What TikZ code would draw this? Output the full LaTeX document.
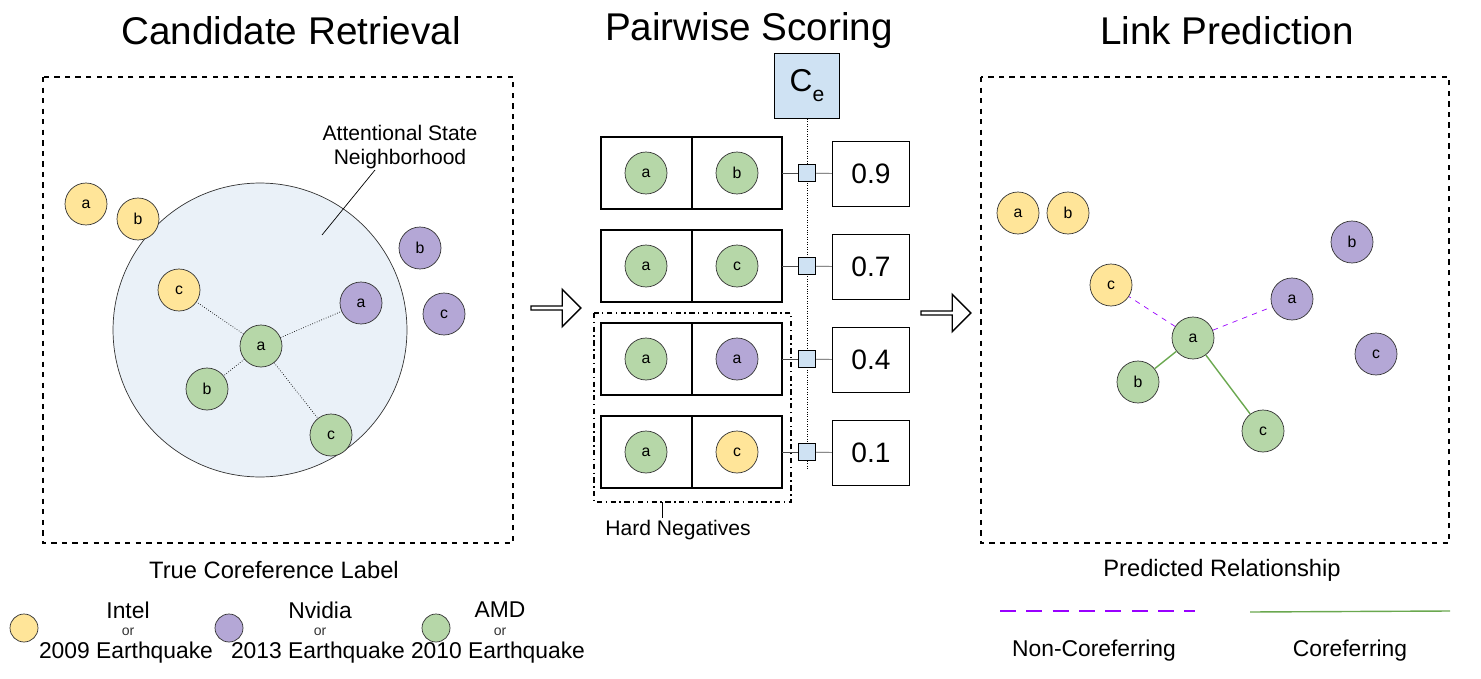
\documentclass[tikz,border=0pt]{standalone}
\usepackage{fontspec}
\setmainfont{Liberation Sans}
\usetikzlibrary{shapes.arrows}
\definecolor{cy}{HTML}{FFE599}
\definecolor{cp}{HTML}{B4A7D6}
\definecolor{cg}{HTML}{B6D7A8}
\definecolor{cb}{HTML}{CFE2F3}
\definecolor{cbig}{HTML}{EAF1F8}
\definecolor{lp}{HTML}{9900FF}
\definecolor{lg}{HTML}{6AA84F}
\begin{document}
\begin{tikzpicture}[x=0.02cm,y=-0.02cm,
  ent/.style={circle,draw=black!80,minimum size=0.84cm,inner sep=0pt,font=\fontsize{9}{10}\selectfont},
  Y/.style={ent,fill=cy},P/.style={ent,fill=cp},G/.style={ent,fill=cg},
  title/.style={font=\fontsize{22}{24}\selectfont},
  sub/.style={font=\fontsize{13.5}{15}\selectfont},
  pane/.style={draw,dashed,thick},
  score/.style={draw,thick,minimum width=1.54cm,minimum height=1.3cm,font=\fontsize{16}{18}\selectfont},
  sq/.style={draw,fill=cb,minimum size=0.34cm,inner sep=0pt},
  barr/.style={single arrow,draw,thick,fill=white,minimum height=1.0cm,minimum width=0.75cm,single arrow head extend=0.12cm,inner sep=0pt},
  lgd/.style={circle,draw=black!80,minimum width=0.52cm,minimum height=0.56cm,inner sep=0pt}]
\useasboundingbox (0,0) rectangle (1481,679);
% titles
\node[title] (t1) at (291,31) {Candidate Retrieval};
\node[title] (t2) at (749,31) {Pairwise Scoring};
\node[title] (t3) at (1227,31) {Link Prediction};
% left pane
\draw[pane] (43,77) rectangle (513,543);
\node[circle,draw=black!80,fill=cbig,minimum size=5.88cm] (big) at (260,330) {};
\node[Y] (ya) at (86,204) {a};
\node[Y] (yb) at (138,219) {b};
\node[P] (pb) at (420,248) {b};
\node[P] (pc) at (444,314) {c};
\node[Y] (yc) at (179,290) {c};
\node[P] (pa) at (361,303) {a};
\node[G] (ga) at (261,346) {a};
\node[G] (gb) at (207,389) {b};
\node[G] (gc) at (331,435) {c};
\foreach \n in {yc,pa,gb,gc} \draw[densely dotted] (ga) -- (\n);
\node[align=center,font=\fontsize{12}{14}\selectfont] (att) at (400,147) {Attentional State\\Neighborhood};
\coordinate (attp) at (322,235);
\draw (375,170) -- (attp);
\node[sub] (tcl) at (274,570) {True Coreference Label};
% legend left
\node[lgd,fill=cy] (l1) at (24,628) {};
\node[lgd,fill=cp] (l2) at (229,628) {};
\node[lgd,fill=cg] (l3) at (436,628) {};
\foreach \x/\a/\b in {128/Intel/2009,320/Nvidia/2013,500/AMD/2010}{
  \node[font=\fontsize{13}{15}\selectfont] at (\x,610) {\a};
  \node[font=\fontsize{8}{9}\selectfont,text=black!80] at (\x,632) {or};
  \node[font=\fontsize{13}{15}\selectfont] at (\x-2,653) {\b\ Earthquake};
}
% arrows
\node[barr] (ar1) at (555,308) {};
\node[barr] (ar2) at (945,313) {};
% middle
\node[draw,fill=cb,minimum size=1.3cm,inner sep=0pt,font=\fontsize{18}{20}\selectfont] (ce) at (807,86) {C\raisebox{-0.6ex}{\fontsize{12}{12}\selectfont e}};
\coordinate (cebot) at (807,470);
\draw[densely dotted] (ce) -- (cebot);
\foreach \i/\y/\s/\lc/\ll/\rc/\rl in {1/173/0.9/G/a/G/b,2/266/0.7/G/a/G/c,3/359/0.4/G/a/P/a,4/452/0.1/G/a/Y/c}{
  \draw[thick] (601,\y-36) rectangle (782,\y+36);
  \draw[thick] (692,\y-36) -- (692,\y+36);
  \node[\lc] (l\i) at (646,\y) {\ll};
  \node[\rc] (r\i) at (737,\y) {\rl};
  \node[sq] (q\i) at (807,\y) {};
  \node[score] (s\i) at (871,\y+1) {\s};
  \coordinate (e\i) at (782,\y);
  \draw[black!70] (e\i) -- (q\i);
  \draw[black!70] (q\i) -- (s\i);
}
\draw[thick,dash dot] (594,313) rectangle (791,502);
\node[font=\fontsize{12}{14}\selectfont] (hn) at (678,530) {Hard Negatives};
\draw (662,502) -- (662,518);
% right pane
\draw[pane] (981,77) rectangle (1449,543);
\node[Y] (Ya) at (1018,213) {a};
\node[Y] (Yb) at (1068,213) {b};
\node[P] (Pb) at (1352,242) {b};
\node[P] (Pa) at (1292,299) {a};
\node[Y] (Yc) at (1111,285) {c};
\node[G] (Ga) at (1193,338) {a};
\node[P] (Pc) at (1376,354) {c};
\node[G] (Gb) at (1138,382) {b};
\node[G] (Gc) at (1263,431) {c};
\draw[lp,dashed] (Ga) -- (Yc);
\draw[lp,dashed] (Ga) -- (Pa);
\draw[lg,thick] (Ga) -- (Gb);
\draw[lg,thick] (Ga) -- (Gc);
\node[sub] (pr) at (1222,570) {Predicted Relationship};
\coordinate (n1) at (1000,611); \coordinate (n2) at (1195,611);
\coordinate (c1) at (1250,612); \coordinate (c2) at (1450,611);
\draw[lp,dashed,thick,dash pattern=on 9pt off 6pt] (n1) -- (n2);
\draw[lg,thick] (c1) -- (c2);
\node[font=\fontsize{13}{15}\selectfont] (nc) at (1094,651) {Non-Coreferring};
\node[font=\fontsize{13}{15}\selectfont] (co) at (1350,651) {Coreferring};
\end{tikzpicture}
\end{document}
